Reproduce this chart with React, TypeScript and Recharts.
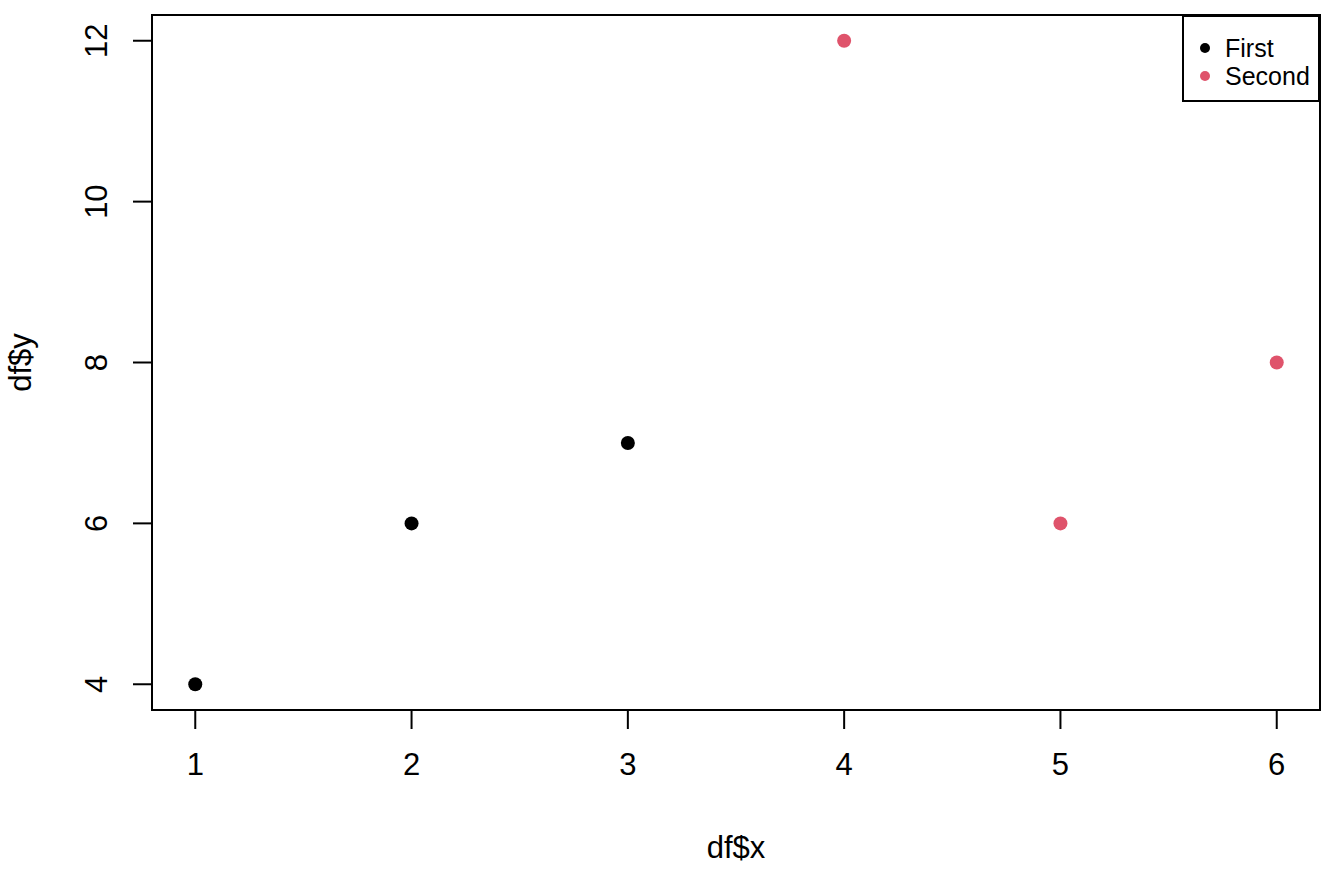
import { ScatterChart, Scatter, XAxis, YAxis, ReferenceArea, Label } from "recharts";

const xFirst = [1, 2, 3];
const yFirst = [4, 6, 7];
const xSecond = [4, 5, 6];
const ySecond = [12, 6, 8];
const xTicks = [1, 2, 3, 4, 5, 6];
const yTicks = [4, 6, 8, 10, 12];
const seriesNames = ["First", "Second"];
const COLORS = ["#000000", "#DF536B"];

const first = xFirst.map((x, i) => ({ x, y: yFirst[i] }));
const second = xSecond.map((x, i) => ({ x, y: ySecond[i] }));

const FONT = "'Liberation Sans', Arial, sans-serif";

const XTick = (props: any) => {
  const { x, y, payload } = props;
  return (
    <text x={x} y={y + 46} textAnchor="middle" fontFamily={FONT} fontSize={31} fill="#000">
      {payload.value}
    </text>
  );
};

const YTick = (props: any) => {
  const { x, y, payload } = props;
  const tx = x - 26;
  return (
    <text
      x={tx}
      y={y}
      transform={`rotate(-90 ${tx} ${y})`}
      textAnchor="middle"
      fontFamily={FONT}
      fontSize={31}
      fill="#000"
    >
      {payload.value}
    </text>
  );
};

const Dot = (props: any) => <circle cx={props.cx} cy={props.cy} r={7} fill={props.fill} />;

export default function App() {
  return (
    <div style={{ position: "absolute", left: 0, top: 0, width: 1335, height: 870, background: "#fff" }}>
      <ScatterChart width={1335} height={870} margin={{ top: 15, right: 15, left: 0, bottom: 0 }}>
        <XAxis
          type="number"
          dataKey="x"
          domain={[0.8, 6.2]}
          ticks={xTicks}
          allowDataOverflow
          height={160}
          tickSize={19}
          tickMargin={0}
          axisLine={false}
          tickLine={{ stroke: "#000", strokeWidth: 2 }}
          tick={<XTick />}
        >
          <Label
            content={(p: any) => {
              const vb = p.viewBox;
              return (
                <text x={vb.x + vb.width / 2} y={vb.y + 148} textAnchor="middle" fontFamily={FONT} fontSize={31} fill="#000">
                  df$x
                </text>
              );
            }}
          />
        </XAxis>
        <YAxis
          type="number"
          dataKey="y"
          domain={[3.68, 12.32]}
          ticks={yTicks}
          allowDataOverflow
          width={152}
          tickSize={19}
          tickMargin={0}
          axisLine={false}
          tickLine={{ stroke: "#000", strokeWidth: 2 }}
          tick={<YTick />}
        >
          <Label
            content={(p: any) => {
              const vb = p.viewBox;
              const cx = 31;
              const cy = vb.y + vb.height / 2;
              return (
                <text x={cx} y={cy} transform={`rotate(-90 ${cx} ${cy})`} textAnchor="middle" fontFamily={FONT} fontSize={31} fill="#000">
                  df$y
                </text>
              );
            }}
          />
        </YAxis>
        <ReferenceArea x1={0.8} x2={6.2} y1={3.68} y2={12.32} fill="none" stroke="#000" strokeWidth={2} ifOverflow="visible" />
        <Scatter name={seriesNames[0]} data={first} fill={COLORS[0]} shape={<Dot />} isAnimationActive={false} />
        <Scatter name={seriesNames[1]} data={second} fill={COLORS[1]} shape={<Dot />} isAnimationActive={false} />
      </ScatterChart>
      <div
        style={{
          position: "absolute",
          left: 1182,
          top: 15,
          width: 138,
          height: 87,
          boxSizing: "border-box",
          border: "2px solid #000",
          background: "#fff",
          fontFamily: FONT,
          fontSize: 25,
        }}
      >
        {seriesNames.map((name, i) => (
          <div key={name} style={{ position: "absolute", left: 0, top: 17 + i * 28, height: 28, display: "flex", alignItems: "center" }}>
            <span style={{ display: "inline-block", width: 10, height: 10, borderRadius: "50%", background: COLORS[i], marginLeft: 16 }} />
            <span style={{ marginLeft: 15, lineHeight: "28px" }}>{name}</span>
          </div>
        ))}
      </div>
    </div>
  );
}
